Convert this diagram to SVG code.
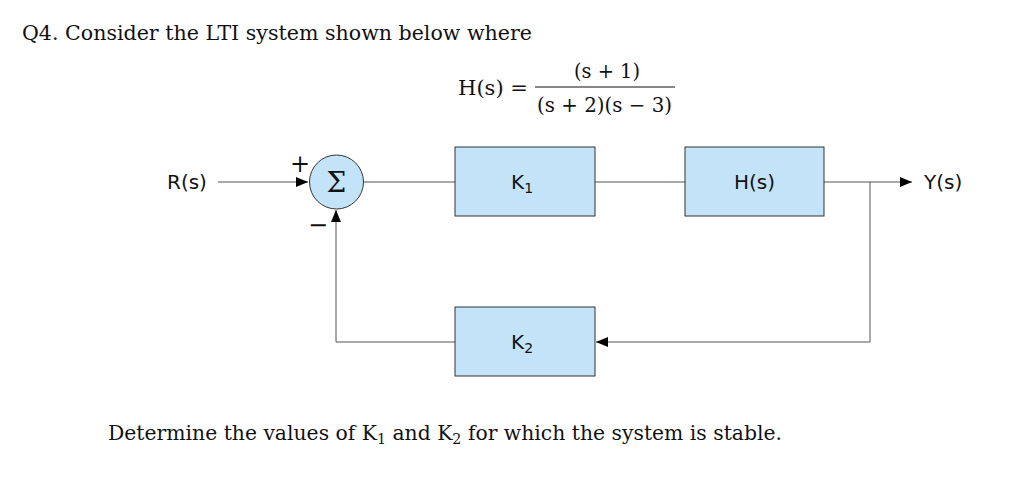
<svg xmlns="http://www.w3.org/2000/svg" width="1024" height="493" viewBox="0 0 1024 493">
<style>
.t{font-family:"DejaVu Serif",serif;font-size:20px;fill:#111}
.s{font-family:"DejaVu Sans",sans-serif;font-size:20px;fill:#111}
.b{fill:#c3e4f8;stroke:#333;stroke-width:1}
.l{fill:none;stroke:#555;stroke-width:1}
</style>
<defs><marker id="a" markerWidth="12" markerHeight="10" refX="12" refY="5" orient="auto" markerUnits="userSpaceOnUse"><path d="M0,0L12,5L0,10z" fill="#000"/></marker></defs>
<rect width="1024" height="493" fill="#fff"/>
<text class="t" x="22" y="40" textLength="510" lengthAdjust="spacingAndGlyphs">Q4. Consider the LTI system shown below where</text>
<text class="t" x="458" y="95" textLength="70" lengthAdjust="spacingAndGlyphs">H(s) =</text>
<text class="t" x="574" y="78" textLength="66" lengthAdjust="spacingAndGlyphs">(s + 1)</text>
<line x1="535" y1="87" x2="675" y2="87" stroke="#111" stroke-width="1.2"/>
<text class="t" x="537" y="112" textLength="135" lengthAdjust="spacingAndGlyphs">(s + 2)(s − 3)</text>
<g id="connectors">
<path class="l" d="M218,182H308" marker-end="url(#a)"/>
<path class="l" d="M364,182H455"/>
<path class="l" d="M595,182H685"/>
<path class="l" d="M824,182H912" marker-end="url(#a)"/>
<path class="l" d="M870,182V342H596" marker-end="url(#a)"/>
<path class="l" d="M455,342H336V210" marker-end="url(#a)"/>
</g>
<g id="sum"><circle class="b" cx="336.5" cy="182" r="27"/><text class="t" x="336.5" y="192" text-anchor="middle" style="font-size:28px">Σ</text>
<text class="t" x="290" y="172" style="font-size:24px">+</text><text class="t" x="308" y="233" style="font-size:24px">−</text></g>
<g id="k1"><rect class="b" x="455" y="147" width="140" height="69"/><text class="s" x="511" y="189">K<tspan font-size="14" dy="4">1</tspan></text></g>
<g id="h"><rect class="b" x="685" y="147" width="139" height="69"/><text class="s" x="754.5" y="189" text-anchor="middle">H(s)</text></g>
<g id="k2"><rect class="b" x="455" y="307" width="140" height="69"/><text class="s" x="511" y="349">K<tspan font-size="14" dy="4">2</tspan></text></g>
<text class="s" x="167" y="189">R(s)</text>
<text class="s" x="924" y="189">Y(s)</text>
<text class="t" x="108" y="440" textLength="674" lengthAdjust="spacingAndGlyphs">Determine the values of K<tspan font-size="14" dy="4">1</tspan><tspan dy="-4"> and K</tspan><tspan font-size="14" dy="4">2</tspan><tspan dy="-4"> for which the system is stable.</tspan></text>
</svg>
